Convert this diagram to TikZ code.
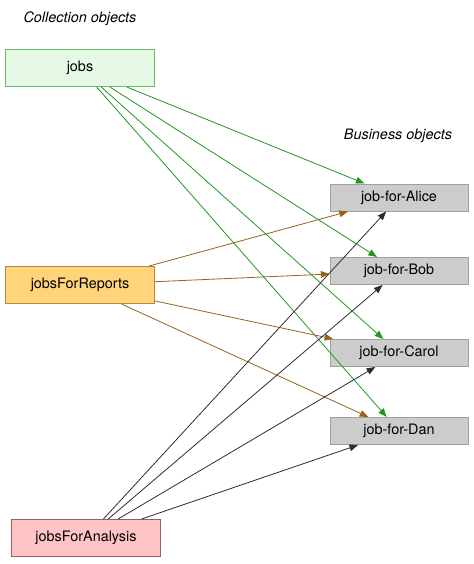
\documentclass[tikz,border=0pt]{standalone}
\usepackage{fontspec}
\setmainfont{TeX Gyre Heros}
\usetikzlibrary{arrows.meta}

\begin{document}
\begin{tikzpicture}[x=0.75pt,y=0.75pt,yscale=-1,xscale=1,
  collbox/.style={draw, line width=0.75, minimum width=111.75pt, minimum height=27.75pt, inner sep=0pt, font=\fontsize{10.8}{12}\selectfont},
  busbox/.style={draw={rgb, 255:red, 160; green, 160; blue, 160 }, fill={rgb, 255:red, 204; green, 204; blue, 204 }, line width=0.75, minimum width=103.5pt, minimum height=20.25pt, inner sep=0pt, font=\fontsize{10.8}{12}\selectfont},
  title/.style={inner sep=0.75pt, font=\fontsize{10.8}{12}\selectfont\itshape},
  link/.style={line width=0.6, -{Triangle[length=6.5pt,width=5pt]}},
  greenlink/.style={link, color={rgb, 255:red, 34; green, 150; blue, 34 }},
  orangelink/.style={link, color={rgb, 255:red, 150; green, 98; blue, 28 }},
  blacklink/.style={link, color={rgb, 255:red, 45; green, 45; blue, 45 }}]
\useasboundingbox (0,0) rectangle (474,564);

% Text Node
\node [title] (colltitle) at (80,19) {Collection objects};
% Text Node
\node [title] (bustitle) at (398,136) {Business objects};

%Collection objects
\node [collbox, draw={rgb, 255:red, 100; green, 190; blue, 100 }, fill={rgb, 255:red, 230; green, 248; blue, 230 }] (jobs) at (80,68) {jobs};
\node [collbox, draw={rgb, 255:red, 178; green, 138; blue, 62 }, fill={rgb, 255:red, 255; green, 212; blue, 122 }] (reports) at (80,285) {jobsForReports};
\node [collbox, draw={rgb, 255:red, 140; green, 100; blue, 100 }, fill={rgb, 255:red, 255; green, 196; blue, 196 }] (analysis) at (86,538) {jobsForAnalysis};

%Business objects
\node [busbox] (alice) at (399,197.5) {job-for-Alice};
\node [busbox] (bob) at (399,271) {job-for-Bob};
\node [busbox] (carol) at (399,353) {job-for-Carol};
\node [busbox] (dan) at (399,431) {job-for-Dan};

%Links from jobs
\foreach \t in {alice,bob,carol,dan}
  \draw [greenlink] (jobs) -- (\t);
%Links from jobsForReports
\foreach \t in {alice,bob,carol,dan}
  \draw [orangelink] (reports) -- (\t);
%Links from jobsForAnalysis
\foreach \t in {alice,bob,carol,dan}
  \draw [blacklink] (analysis) -- (\t);

\end{tikzpicture}
\end{document}
